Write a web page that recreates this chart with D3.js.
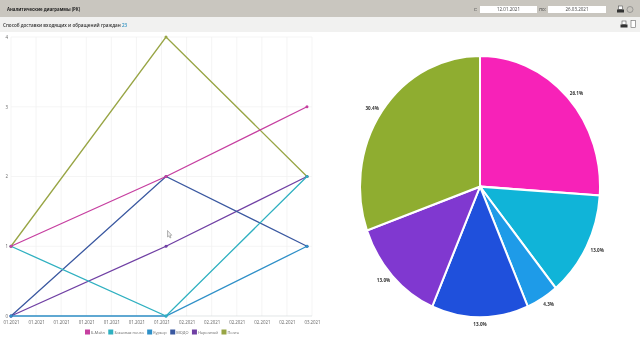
<!DOCTYPE html>
<html><head><meta charset="utf-8">
<script src="https://cdn.jsdelivr.net/npm/d3@7"></script>
<style>
html,body{margin:0;padding:0;background:#fff;overflow:hidden}
svg{display:block;filter:blur(0.3px)}
text{font-family:"Open Sans","Noto Sans",sans-serif}
</style></head><body><svg id="c" width="640" height="360"></svg>
<script>
const title = "Аналитические диаграммы (РК)";
const subtitle = "Способ доставки входящих и обращений граждан";
const totalLabel = "23";
const dateFrom = "12.01.2021";
const dateTo = "26.03.2021";
const seriesNames = ["Б-Мэйл","Заказная почта","Курьер","МОДО","Нарочный","Почта"];
const seriesColors = ["#f722b8","#10b4d8","#1e9be8","#1f50dc","#8038d0","#8fad30"];
const lineColors = ["#c63fa0","#2fb0c0","#2f90c8","#3a58a0","#7040a4","#98a545"];
const pointSlots = [0,6.18,11.8];
const emailValues = [1,2,3];
const registeredValues = [1,0,2];
const courierValues = [0,0,1];
const modoValues = [0,2,1];
const handValues = [0,1,2];
const postValues = [1,4,2];
const tickLabels = ["01.2021","01.2021","01.2021","01.2021","01.2021","01.2021","01.2021","02.2021","02.2021","02.2021","02.2021","02.2021","03.2021"];
const yTicks = [0,1,2,3,4];
const pieTotals = [6,3,1,3,3,7];
const pieLabels = ["26.1%","13.0%","4.3%","13.0%","13.0%","30.4%"];
const allSeries = [emailValues,registeredValues,courierValues,modoValues,handValues,postValues];

const svg = d3.select("#c");
svg.append("rect").attr("width",640).attr("height",360).attr("fill","#fff");
svg.append("rect").attr("width",640).attr("height",17).attr("fill","#c9c6bf");
svg.append("rect").attr("y",17).attr("width",640).attr("height",15).attr("fill","#f1f1f0");
svg.append("text").attr("x",7).attr("y",11).attr("font-size",4.3).attr("font-weight",700).attr("fill","#222").text(title);
const sub = svg.append("text").attr("x",3).attr("y",26.5).attr("font-size",4.6).attr("font-weight",600).attr("fill","#333");
sub.append("tspan").text(subtitle+" ");
sub.append("tspan").attr("fill","#2a8fc0").text(totalLabel);

svg.append("text").attr("x",477).attr("y",11).attr("font-size",4.5).attr("text-anchor","end").attr("fill","#444").text("с:");
svg.append("text").attr("x",546).attr("y",11).attr("font-size",4.5).attr("text-anchor","end").attr("fill","#444").text("по:");
[[dateFrom,480,57],[dateTo,548,58]].forEach(([t,x,w])=>{
  svg.append("rect").attr("x",x).attr("y",6).attr("width",w).attr("height",7).attr("fill","#fff");
  svg.append("text").attr("x",x+w/2).attr("y",11.2).attr("font-size",4.5).attr("text-anchor","middle").attr("fill","#444").text(t);
});

function printer(x,y){
  const g=svg.append("g").attr("transform",`translate(${x},${y})`);
  g.append("rect").attr("x",1.5).attr("y",0).attr("width",4).attr("height",3.5).attr("fill","#fff").attr("stroke","#555").attr("stroke-width",.6);
  g.append("rect").attr("x",0).attr("y",3.5).attr("width",7).attr("height",3).attr("fill","#333");
}
printer(617,6); printer(620.5,21);
svg.append("circle").attr("cx",630).attr("cy",9.5).attr("r",3).attr("fill","none").attr("stroke","#777").attr("stroke-width",.6);
svg.append("rect").attr("x",631).attr("y",20.5).attr("width",4.5).attr("height",7).attr("fill","#fff").attr("stroke","#666").attr("stroke-width",.6);

// Line chart
const x = d3.scaleLinear().domain([0,12]).range([11,312]);
const y = d3.scaleLinear().domain([0,4]).range([316,37]);
const chart = svg.append("g");
chart.append("g").selectAll("line").data(tickLabels).join("line")
  .attr("x1",(d,i)=>x(i)).attr("x2",(d,i)=>x(i)).attr("y1",y(4)).attr("y2",y(0)).attr("stroke","#f1f1f1").attr("stroke-width",.7);
chart.append("g").selectAll("line").data(yTicks).join("line")
  .attr("x1",x(0)).attr("x2",x(12)).attr("y1",d=>y(d)).attr("y2",d=>y(d)).attr("stroke",d=>d===0?"#d5dbdd":"#f1f1f1").attr("stroke-width",.7);

const xAxis = d3.axisBottom(x).tickValues(d3.range(tickLabels.length)).tickFormat(i=>tickLabels[i]).tickSize(0).tickPadding(5);
const xg = chart.append("g").attr("transform",`translate(0,${y(0)})`).call(xAxis);
xg.select(".domain").remove();
xg.selectAll("text").attr("font-size",4.4).attr("fill","#666").attr("font-family",'"Open Sans",sans-serif');
const yAxis = d3.axisLeft(y).tickValues(yTicks).tickFormat(d3.format("d")).tickSize(0).tickPadding(3);
const yg = chart.append("g").attr("transform",`translate(${x(0)},0)`).call(yAxis);
yg.select(".domain").remove();
yg.selectAll("text").attr("font-size",4.4).attr("fill","#666").attr("font-family",'"Open Sans",sans-serif');

const line = d3.line().x((d,i)=>x(pointSlots[i])).y(d=>y(d));
const order = d3.range(allSeries.length).reverse();
order.forEach(s=>{
  chart.append("path").attr("d",line(allSeries[s])).attr("fill","none")
    .attr("stroke",lineColors[s]).attr("stroke-width",1.3);
});
order.forEach(s=>{
  chart.append("g").selectAll("circle").data(allSeries[s]).join("circle")
    .attr("cx",(d,i)=>x(pointSlots[i])).attr("cy",d=>y(d)).attr("r",1.5).attr("fill",lineColors[s]);
});

// Legend
const legend = svg.append("g");
let lx = 85;
seriesNames.forEach((n,i)=>{
  legend.append("rect").attr("x",lx).attr("y",329.5).attr("width",5).attr("height",5).attr("fill",lineColors[i]);
  const t = legend.append("text").attr("x",lx+6).attr("y",333.6).attr("font-size",3.9).attr("fill","#666").text(n);
  lx += 6 + t.node().getComputedTextLength() + 3.5;
});

// Cursor
svg.append("path").attr("d","M167.5 230.5 L167.5 237 L169 235.8 L170 238 L171 237.5 L170 235.4 L171.8 235.2 Z")
  .attr("fill","#eee").attr("stroke","#777").attr("stroke-width",.5);

// Pie (horizontally narrower than tall in the reference)
const cx=480, cy=186.6, r=120, sy=1.09;
const pie = d3.pie().sort(null).value(d=>d)(pieTotals);
const arc = d3.arc().innerRadius(0).outerRadius(r);
const pg = svg.append("g").attr("transform",`translate(${cx},${cy}) scale(1,${sy})`);
pg.selectAll("path").data(pie).join("path").attr("d",arc)
  .attr("fill",(d,i)=>seriesColors[i]).attr("stroke","#fff").attr("stroke-width",2);
const labelArc = d3.arc().innerRadius(132).outerRadius(132);
svg.append("g").selectAll("text").data(pie).join("text")
  .attr("x",d=>cx+labelArc.centroid(d)[0])
  .attr("y",d=>cy+labelArc.centroid(d)[1]*137/132)
  .attr("text-anchor","middle").attr("dominant-baseline","central")
  .attr("font-size",4.6).attr("font-weight",700).attr("fill","#333")
  .text((d,i)=>pieLabels[i]);
</script></body></html>
